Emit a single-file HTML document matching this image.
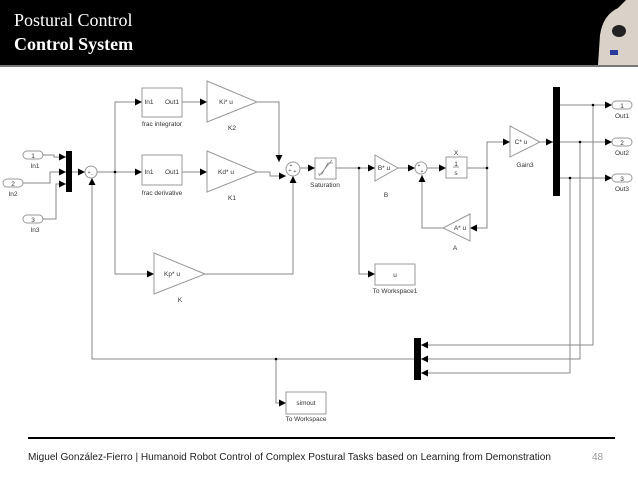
<!DOCTYPE html>
<html><head><meta charset="utf-8"><style>
html,body{margin:0;padding:0;background:#fff;}
body{width:638px;height:478px;overflow:hidden;position:relative;}
</style></head><body>
<svg width="638" height="478" viewBox="0 0 638 478" xmlns="http://www.w3.org/2000/svg" style="position:absolute;left:0;top:0">
<defs>
<marker id="a" viewBox="0 0 10 10" refX="10" refY="5" markerWidth="7" markerHeight="7" markerUnits="userSpaceOnUse" orient="auto"><path d="M0,0 L10,5 L0,10z" fill="#000"/></marker>
</defs>
<rect x="0" y="0" width="638" height="65" fill="#000"/>
<rect x="0" y="65" width="638" height="2" fill="#777"/>
<!-- robot -->
<path d="M598,65 L600,35 Q603,15 618,8 L626,0 L638,0 L638,65 Z" fill="#d8d2c8"/>
<ellipse cx="619" cy="31" rx="7" ry="6" fill="#222"/>
<rect x="610" y="50" width="8" height="5" fill="#2a3a9a"/>
<text x="14" y="26" font-family="Liberation Serif, serif" font-size="18" fill="#fff">Postural Control</text>
<text x="14" y="50" font-family="Liberation Serif, serif" font-size="18" font-weight="bold" fill="#fff">Control System</text>

<g fill="none" stroke="#888" stroke-width="1">
<polyline points="43,155 54,155 54,157 66,157" marker-end="url(#a)"/>
<polyline points="23,183 50,183 50,172 66,172" marker-end="url(#a)"/>
<polyline points="43,219 56,219 56,184 66,184" marker-end="url(#a)"/>
<line x1="72" y1="172" x2="85" y2="172" marker-end="url(#a)"/>
<line x1="97" y1="172" x2="142" y2="172" marker-end="url(#a)"/>
<polyline points="115,172 115,102 142,102" marker-end="url(#a)"/>
<polyline points="115,172 115,274 154,274" marker-end="url(#a)"/>
<line x1="182" y1="102" x2="207" y2="102" marker-end="url(#a)"/>
<line x1="182" y1="172" x2="207" y2="172" marker-end="url(#a)"/>
<polyline points="257,102 279,102 279,162" marker-end="url(#a)"/>
<polyline points="257,172 270,172 270,176 286,176" marker-end="url(#a)"/>
<polyline points="205,274 293,274 293,176" marker-end="url(#a)"/>
<line x1="300" y1="168" x2="315" y2="168" marker-end="url(#a)"/>
<line x1="336" y1="168" x2="375" y2="168" marker-end="url(#a)"/>
<polyline points="359,168 359,274 375,274" marker-end="url(#a)"/>
<line x1="398" y1="168" x2="415" y2="168" marker-end="url(#a)"/>
<line x1="427" y1="168" x2="446" y2="168" marker-end="url(#a)"/>
<line x1="467" y1="168" x2="487" y2="168"/>
<polyline points="487,168 487,142 510,142" marker-end="url(#a)"/>
<polyline points="487,168 487,228 470,228" marker-end="url(#a)"/>
<polyline points="443,228 422,228 422,175" marker-end="url(#a)"/>
<line x1="540" y1="142" x2="553" y2="142" marker-end="url(#a)"/>
<line x1="560" y1="105" x2="612" y2="105" marker-end="url(#a)"/>
<line x1="560" y1="142" x2="612" y2="142" marker-end="url(#a)"/>
<line x1="560" y1="178" x2="612" y2="178" marker-end="url(#a)"/>
<polyline points="593,105 593,345 421,345" marker-end="url(#a)"/>
<polyline points="580,142 580,359 421,359" marker-end="url(#a)"/>
<polyline points="570,178 570,373 421,373" marker-end="url(#a)"/>
<polyline points="414,359 92,359 92,178" marker-end="url(#a)"/>
<polyline points="276,359 276,403 286,403" marker-end="url(#a)"/>
</g>
<g fill="#000">
<circle cx="115" cy="172" r="1.3"/><circle cx="359" cy="168" r="1.3"/><circle cx="487" cy="168" r="1.3"/>
<circle cx="593" cy="105" r="1.3"/><circle cx="580" cy="142" r="1.3"/><circle cx="570" cy="178" r="1.3"/><circle cx="276" cy="359" r="1.3"/>
<rect x="66" y="151" width="6" height="41"/>
<rect x="553" y="87" width="7" height="109"/>
<rect x="414" y="338" width="7" height="42"/>
</g>
<g fill="#fff" stroke="#999" stroke-width="1">
<rect x="23" y="151" width="20" height="8" rx="4"/>
<rect x="3" y="179" width="20" height="8" rx="4"/>
<rect x="23" y="215" width="20" height="8" rx="4"/>
<rect x="612" y="101" width="20" height="8" rx="4"/>
<rect x="612" y="138" width="20" height="8" rx="4"/>
<rect x="612" y="174" width="20" height="8" rx="4"/>
<circle cx="91" cy="172" r="6"/>
<circle cx="293" cy="169" r="7"/>
<circle cx="421" cy="168" r="6"/>
<rect x="142" y="88" width="40" height="29"/>
<rect x="142" y="155" width="40" height="30"/>
<polygon points="207,81 257,102 207,122"/>
<polygon points="207,151 257,172 207,192"/>
<polygon points="154,253 205,274 154,294"/>
<rect x="315" y="158" width="21" height="21"/>
<polygon points="375,155 398,168 375,181"/>
<rect x="446" y="157" width="21" height="21"/>
<polygon points="510,126 540,142 510,157"/>
<polygon points="470,214 443,228 470,241"/>
<rect x="375" y="264" width="40" height="21"/>
<rect x="286" y="392" width="40" height="22"/>
</g>
<path d="M318,174 L322,174 Q325,168 328,163 L333,163 M319,176 L332,160" stroke="#888" fill="none" stroke-width="0.8"/>
<g font-family="Liberation Sans, sans-serif" font-size="5" fill="#444" text-anchor="middle">
<text x="89" y="174">+</text><text x="92" y="176">-</text>
<text x="291" y="167">+</text><text x="290" y="172">+</text><text x="295" y="173">+</text>
<text x="419" y="167">+</text><text x="422" y="173">+</text>
</g>
<g font-family="Liberation Sans, sans-serif" font-size="6.5" fill="#333" text-anchor="middle">
<text x="33" y="158">1</text><text x="13" y="186">2</text><text x="33" y="222">3</text>
<text x="35" y="168">In1</text><text x="13" y="196">In2</text><text x="35" y="232">In3</text>
<text x="622" y="108">1</text><text x="622" y="145">2</text><text x="622" y="181">3</text>
<text x="622" y="118">Out1</text><text x="622" y="155">Out2</text><text x="622" y="191">Out3</text>
<text x="149" y="104">In1</text><text x="172" y="104">Out1</text>
<text x="149" y="174">In1</text><text x="172" y="174">Out1</text>
<text x="162" y="126">frac integrator</text><text x="162" y="195">frac derivative</text>
<text x="226" y="104">Ki* u</text><text x="226" y="174">Kd* u</text><text x="172" y="276">Kp* u</text>
<text x="232" y="130">K2</text><text x="232" y="200">K1</text><text x="180" y="302">K</text>
<text x="325" y="187">Saturation</text>
<text x="384" y="170">B* u</text><text x="386" y="197">B</text>
<text x="456" y="155">X</text><text x="456" y="166">1</text><text x="456" y="175">s</text>
<text x="521" y="144">C* u</text><text x="525" y="167">Gain3</text>
<text x="460" y="230">A* u</text><text x="455" y="250">A</text>
<text x="395" y="277">u</text><text x="395" y="293">To Workspace1</text>
<text x="306" y="405">simout</text><text x="306" y="421">To Workspace</text>
</g>
<line x1="453" y1="167" x2="459" y2="167" stroke="#333" stroke-width="0.5"/>
<rect x="28" y="437" width="587" height="2" fill="#000"/>
<text x="28" y="460" font-family="Liberation Sans Narrow, Liberation Sans, sans-serif" font-size="10" fill="#222" textLength="523" lengthAdjust="spacingAndGlyphs">Miguel González-Fierro  |  Humanoid Robot Control of Complex Postural Tasks based on Learning from Demonstration</text>
<text x="592" y="460" font-family="Liberation Sans, sans-serif" font-size="10" fill="#999">48</text>
</svg>
</body></html>
